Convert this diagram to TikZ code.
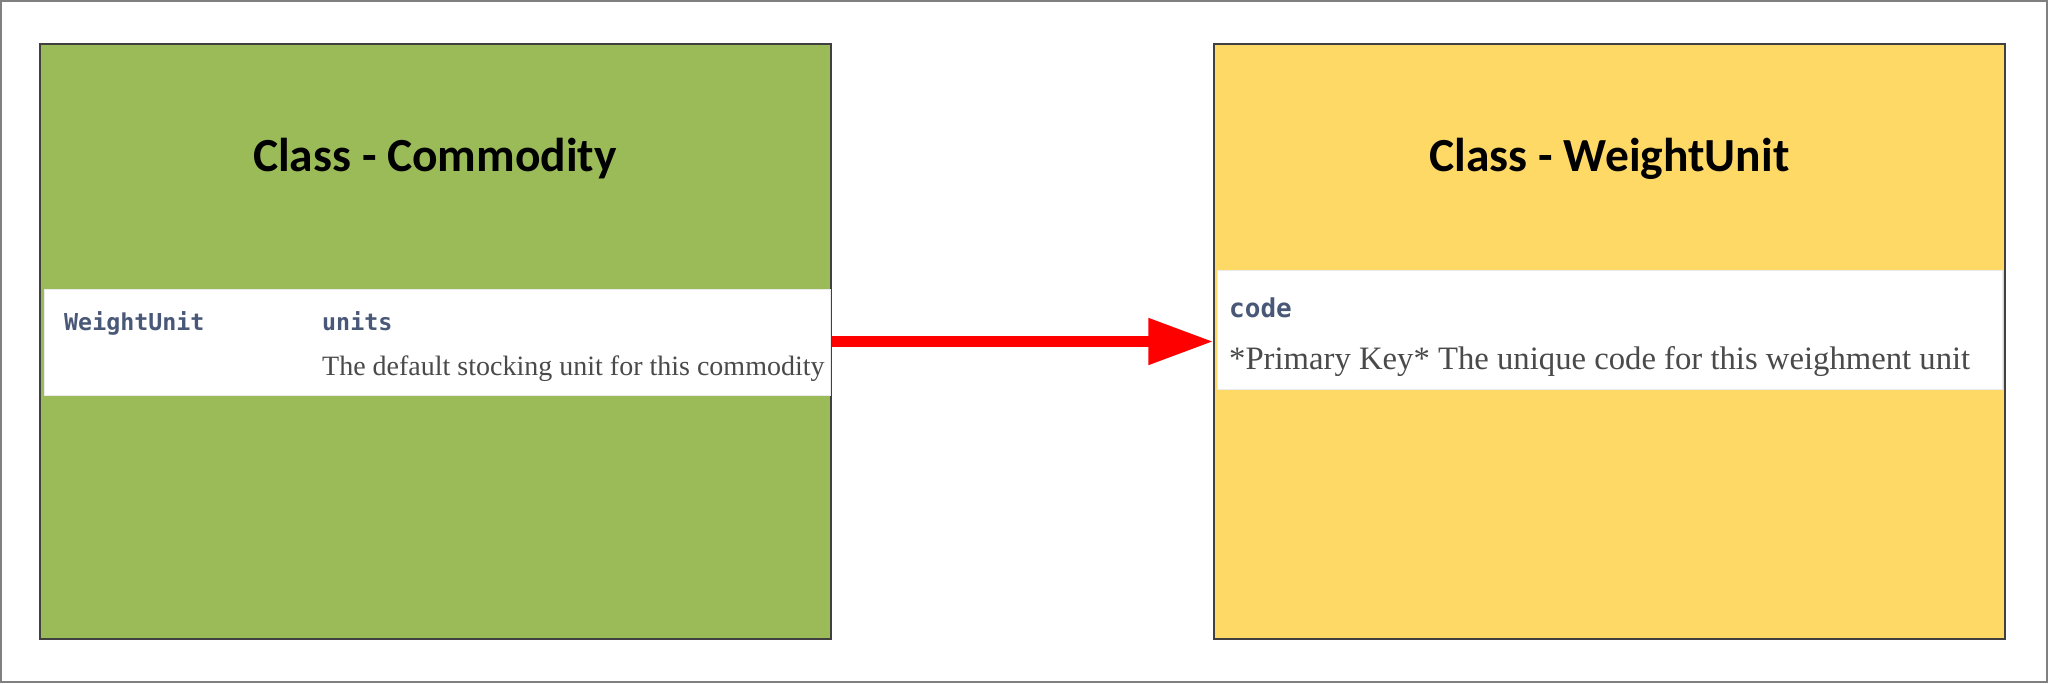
\documentclass[tikz,border=0pt]{standalone}
\usepackage{fontspec}
\setmainfont{Liberation Serif}
\newfontfamily\titlefont{Carlito}
\newfontfamily\monofont{DejaVu Sans Mono}
\usetikzlibrary{arrows.meta}
\definecolor{boxgreen}{HTML}{9BBB59}
\definecolor{boxyellow}{HTML}{FFD966}
\definecolor{fieldblue}{HTML}{4A5878}
\definecolor{desctext}{HTML}{4A4A4A}
\tikzset{
  classbox/.style={draw=black!75, line width=1.2pt, minimum width=791pt, minimum height=595pt, inner sep=0pt},
  strip/.style={fill=white, draw=black!8, line width=0.8pt, inner sep=0pt},
  titletext/.style={anchor=base, font=\titlefont\bfseries\fontsize{47.5}{52}\selectfont, inner sep=0pt},
  fieldL/.style={anchor=base west, inner sep=0pt, text=fieldblue, font=\monofont\bfseries\fontsize{23.3}{27}\selectfont},
  fieldR/.style={anchor=base west, inner sep=0pt, text=fieldblue, font=\monofont\bfseries\fontsize{26}{30}\selectfont},
  descL/.style={anchor=base west, inner sep=0pt, text=desctext, font=\fontsize{28}{32}\selectfont},
  descR/.style={anchor=base west, inner sep=0pt, text=desctext, font=\fontsize{32.7}{37}\selectfont},
  relarrow/.style={draw=red, line width=11pt, -{Triangle[length=65pt,width=44pt]}}
}
\begin{document}
\begin{tikzpicture}[x=1pt,y=-1pt]
\useasboundingbox (0,0) rectangle (2048,683);
\draw[draw=black!50, line width=2pt] (1,1) rectangle (2047,682);
\node[classbox, fill=boxgreen] (commodity) at (435.5,341.5) {};
\node[classbox, fill=boxyellow] (weightunit) at (1609.5,341.5) {};
\node[strip, minimum width=786pt, minimum height=106pt] (stripL) at (437,342) {};
\node[strip, minimum width=785pt, minimum height=119pt] (stripR) at (1609.5,329.5) {};
\node[titletext] (titleL) at (435,171) {Class - Commodity};
\node[titletext] (titleR) at (1609.5,171) {Class - WeightUnit};
\node[fieldL] (typeL) at (64,330) {WeightUnit};
\node[fieldL] (nameL) at (322,330) {units};
\node[descL] (textL) at (322,375) {The default stocking unit for this commodity};
\node[fieldR] (nameR) at (1229,317) {code};
\node[descR] (textR) at (1229,369) {*Primary Key* The unique code for this weighment unit};
\draw[relarrow] (commodity.east) -- (weightunit.west);
\end{tikzpicture}
\end{document}
